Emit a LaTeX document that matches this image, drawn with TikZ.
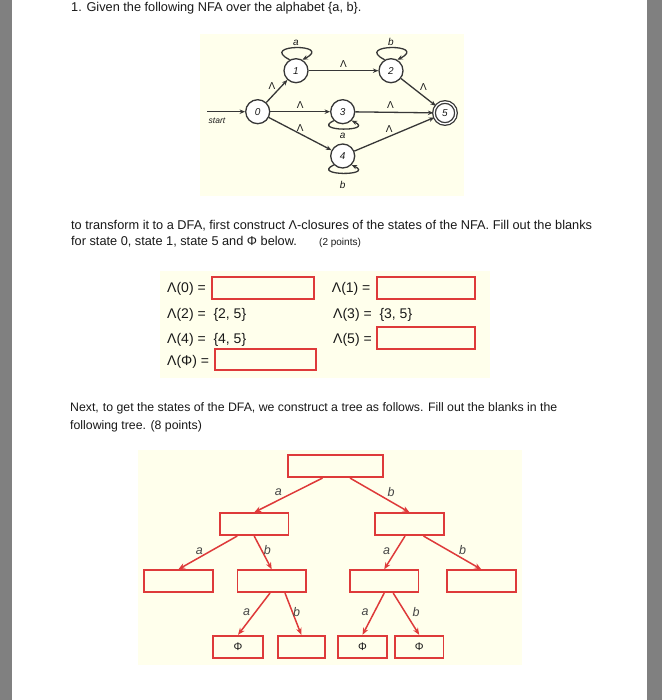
\documentclass[tikz,border=0pt]{standalone}
\usepackage{fontspec}
\setmainfont{Liberation Sans}
\usetikzlibrary{arrows.meta,calc}
\definecolor{bgy}{RGB}{255,255,236}
\definecolor{nfaline}{RGB}{55,55,55}
\definecolor{redbox}{RGB}{222,58,58}
\definecolor{txt}{RGB}{25,25,25}
\definecolor{labgray}{RGB}{70,70,70}
\definecolor{side}{RGB}{128,128,128}
\begin{document}
\begin{tikzpicture}[x=1pt,y=-1pt,
  every node/.style={text=txt},
  state/.style={circle,draw=nfaline,line width=1.3pt,fill=white,minimum size=24pt,inner sep=0pt,font=\fontsize{10}{10}\selectfont\itshape},
  accept/.style={state,double=white,double distance=1.3pt,minimum size=22pt},
  nfaedge/.style={draw=nfaline,line width=1.3pt,-{Stealth[length=5.5pt,width=4.5pt]}},
  lam/.style={font=\fontsize{10}{10}\selectfont,inner sep=1pt},
  lpl/.style={font=\fontsize{10}{10}\selectfont\itshape,inner sep=1pt},
  body/.style={anchor=base west,inner sep=0pt,font=\fontsize{12.75}{15}\selectfont},
  bodyb/.style={anchor=base west,inner sep=0pt,font=\fontsize{12.3}{15}\selectfont},
  small/.style={anchor=base west,inner sep=0pt,font=\fontsize{10}{12}\selectfont},
  clos/.style={anchor=base west,inner sep=0pt,font=\fontsize{14}{16}\selectfont},
  blank/.style={draw=redbox,line width=1.7pt,inner sep=0pt,minimum height=22pt},
  tbox/.style={draw=redbox,line width=1.7pt,minimum height=22pt,inner sep=0pt,font=\fontsize{11}{12}\selectfont},
  tedge/.style={draw=redbox,line width=1.5pt,-{Stealth[length=7pt,width=5.5pt]}},
  tlab/.style={font=\fontsize{12.5}{12}\selectfont\itshape,text=labgray,inner sep=0pt},
]
\useasboundingbox (0,0) rectangle (662,700);
\fill[white] (0,0) rectangle (662,700);
\fill[side] (0,0) rectangle (12,700);
\fill[side] (647,0) rectangle (662,700);

% backgrounds
\fill[bgy] (200,34) rectangle (464,196);
\fill[bgy] (160,271) rectangle (490,378);
\fill[bgy] (138,450) rectangle (522,665);

% text
\node[body] (t1) at (71,11.5) {1. Given the following NFA over the alphabet \{a, b\}.};
\node[body] (t2) at (71,229.5) {to transform it to a DFA, first construct Λ-closures of the states of the NFA. Fill out the blanks};
\node[body] (t3) at (71,246) {for state 0, state 1, state 5 and Φ below.};
\node[small] (t3b) at (319,246) {(2 points)};
\node[bodyb] (t4) at (70,411) {Next,\hspace{4pt}to get the states of the DFA, we construct a tree as follows. Fill out the blanks in the};
\node[bodyb] (t5) at (70,429) {following tree. (8 points)};

% NFA
\node[state] (n0) at (257.7,111.7) {0};
\node[state] (n1) at (296,70.7) {1};
\node[state] (n2) at (391,70.7) {2};
\node[state] (n3) at (342.7,111.7) {3};
\node[state] (n4) at (342.7,156) {4};
\node[accept] (n5) at (445,113) {5};
\coordinate (st) at (207,111.7);
\draw[nfaedge] (st) -- (n0);
\node[font=\fontsize{8.5}{8}\selectfont\itshape,inner sep=0pt] (stl) at (217,120.5) {start};
\draw[nfaedge] (n0) -- node[lam,above left] {Λ} (n1);
\draw[nfaedge] (n1) -- node[lam,above=2pt] {Λ} (n2);
\draw[nfaedge] (n2) -- node[lam,above right] {Λ} (n5);
\draw[nfaedge] (n0) -- node[lam,above=2pt] {Λ} (n3);
\draw[nfaedge] (n3) -- node[lam,above=2pt,pos=0.45] {Λ} (n5);
\draw[nfaedge] (n0) -- node[lam,above=1pt] {Λ} (n4);
\draw[nfaedge] (n4) -- node[lam,above left=0pt] {Λ} (n5);
\draw[nfaedge] (n1.120) .. controls ($(n1)+(-38,-27)$) and ($(n1)+(38,-27)$) .. node[lpl,above=0.5pt] {a} (n1.60);
\draw[nfaedge] (n2.120) .. controls ($(n2)+(-38,-27)$) and ($(n2)+(38,-27)$) .. node[lpl,above=0.5pt] {b} (n2.60);
\draw[nfaedge] (n3.225) .. controls ($(n3)+(-32,20)$) and ($(n3)+(32,20)$) .. node[lpl,below=3pt] {a} (n3.315);
\draw[nfaedge] (n4.225) .. controls ($(n4)+(-32,20)$) and ($(n4)+(32,20)$) .. node[lpl,below=6pt] {b} (n4.315);

% closures
\node[clos] (c0) at (167,292) {Λ(0) =};
\node[blank,minimum width=102.3pt] (b0) at (262.85,288.3) {};
\node[clos] (c1) at (331.7,292) {Λ(1) =};
\node[blank,minimum width=98.3pt] (b1) at (425.85,288.3) {};
\node[clos] (c2) at (167,318) {Λ(2) =\ \ \{2, 5\}};
\node[clos] (c3) at (333,318) {Λ(3) =\ \ \{3, 5\}};
\node[clos] (c4) at (167,343) {Λ(4) =\ \ \{4, 5\}};
\node[clos] (c5) at (333,343) {Λ(5) =};
\node[blank,minimum width=98.3pt] (b5) at (425.85,338.3) {};
\node[clos] (c6) at (167,365.5) {Λ(Φ) =};
\node[blank,minimum width=101pt,minimum height=20.7pt] (b6) at (265.5,359.65) {};

% tree
\node[tbox,minimum width=94.4pt] (r) at (335.5,466.2) {};
\node[tbox,minimum width=68.3pt] (l1) at (254.2,524.2) {};
\node[tbox,minimum width=69pt] (r1) at (409.5,524.2) {};
\node[tbox,minimum width=68.7pt] (l2a) at (178.3,581.2) {};
\node[tbox,minimum width=68.7pt] (l2b) at (271.7,581.2) {};
\node[tbox,minimum width=68.3pt] (l2c) at (384.2,581.2) {};
\node[tbox,minimum width=69.3pt] (l2d) at (481.3,581.2) {};
\node[tbox,minimum width=50.6pt] (l3a) at (238,646.7) {Φ};
\node[tbox,minimum width=47.3pt] (l3b) at (301.3,646.7) {};
\node[tbox,minimum width=48.4pt] (l3c) at (362.5,646.7) {Φ};
\node[tbox,minimum width=48.3pt] (l3d) at (419.2,646.7) {Φ};

\draw[tedge] ([xshift=-13pt]r.south) -- (l1.north);
\draw[tedge] ([xshift=14.5pt]r.south) -- (r1.north);
\draw[tedge] ([xshift=-17pt]l1.south) -- (l2a.north);
\draw[tedge] (l1.south) -- (l2b.north);
\draw[tedge] ([xshift=-4.5pt]r1.south) -- (l2c.north);
\draw[tedge] ([xshift=14pt]r1.south) -- (l2d.north);
\draw[tedge] ([xshift=-1.7pt]l2b.south) -- (l3a.north);
\draw[tedge] ([xshift=13.3pt]l2b.south) -- (l3b.north);
\draw[tedge] (l2c.south) -- (l3c.north);
\draw[tedge] ([xshift=9pt]l2c.south) -- (l3d.north);

\node[tlab] (ta1) at (278.3,491.7) {a};
\node[tlab] (tb1) at (391,491.7) {b};
\node[tlab] (ta2) at (199.3,551) {a};
\node[tlab] (tb2) at (267.3,550) {b};
\node[tlab] (ta3) at (386.7,551) {a};
\node[tlab] (tb3) at (462.7,550) {b};
\node[tlab] (ta4) at (246.7,611.7) {a};
\node[tlab] (tb4) at (296.7,611.7) {b};
\node[tlab] (ta5) at (365,611.7) {a};
\node[tlab] (tb5) at (416,611.7) {b};
\end{tikzpicture}
\end{document}
